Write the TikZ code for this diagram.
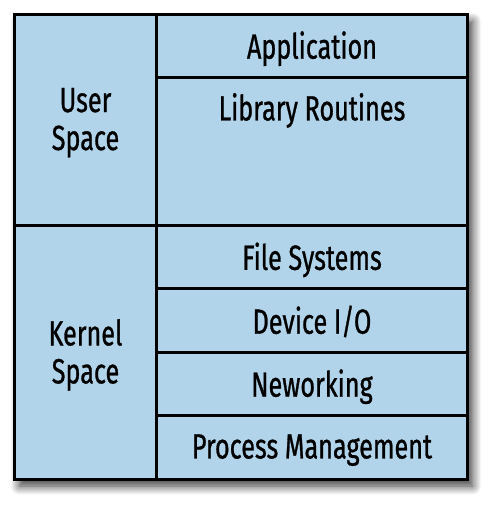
\documentclass[tikz,border=0pt]{standalone}
\usepackage{fontspec}
\setmainfont[FakeStretch=0.72, FakeBold=0.8]{Fira Sans}
\usetikzlibrary{shadows.blur}
\definecolor{cellblue}{RGB}{178,212,234}

\begin{document}
\begin{tikzpicture}[%
      x=1pt, y=-1pt,
      cell/.style={draw=black, fill=cellblue, line width=3pt, inner sep=0pt,
        outer sep=0pt, anchor=north west, text depth=2pt,
        font=\fontsize{35}{38}\selectfont, align=center},
      ]
      \useasboundingbox (0,0) rectangle (493,506);

      \fill [cellblue, blur shadow={shadow xshift=5pt, shadow yshift=-7pt,
        shadow blur radius=9pt, shadow blur steps=12, shadow opacity=80}]
        (14.5,14.5) rectangle (467.5,479);

      \node [cell, minimum width=142pt, minimum height=211pt] (user) at (14.5,14.5) {User\\Space};
      \node [cell, minimum width=311pt, minimum height=63pt] (app) at (156.5,14.5) {Application};
      \node [cell, minimum width=311pt, minimum height=148pt,
        label={[font=\fontsize{35}{37}\selectfont, anchor=center, yshift=-33pt]north:Library Routines}]
        (lib) at (156.5,77.5) {};
      \node [cell, minimum width=142pt, minimum height=253.5pt] (kernel) at (14.5,225.5) {Kernel\\Space};
      \node [cell, minimum width=311pt, minimum height=63.4pt] (fs) at (156.5,225.5) {File Systems};
      \node [cell, minimum width=311pt, minimum height=63.4pt] (dev) at (156.5,288.9) {Device I/O};
      \node [cell, minimum width=311pt, minimum height=63.4pt] (net) at (156.5,352.3) {Neworking};
      \node [cell, minimum width=311pt, minimum height=63.4pt] (proc) at (156.5,415.7) {Process Management};
\end{tikzpicture}
\end{document}
